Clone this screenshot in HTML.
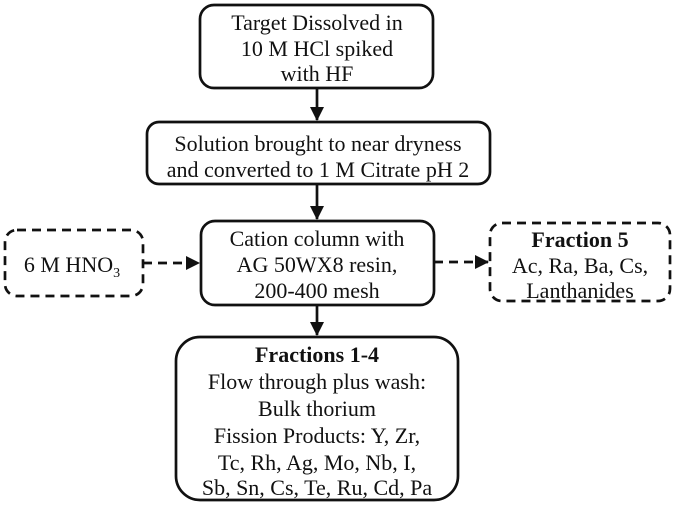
<!DOCTYPE html>
<html><head><meta charset="utf-8"><style>
html,body{margin:0;padding:0;background:#fff}
svg{display:block}
text{font-family:"Liberation Serif",serif;font-size:22px;fill:#111;text-anchor:middle}
.b{font-weight:bold}
</style></head><body>
<svg width="675" height="506" viewBox="0 0 675 506">
<defs>
<marker id="d" markerWidth="14" markerHeight="14" refX="13" refY="7" orient="auto" markerUnits="userSpaceOnUse"><path d="M0,0 L14,7 L0,14 z" fill="#111"/></marker></defs>
<g fill="none" stroke="#111" stroke-width="2.7">
<rect x="200" y="5" width="233" height="83" rx="14"/>
<rect x="147" y="122" width="343" height="62" rx="12"/>
<rect x="201" y="221" width="233" height="84" rx="14"/>
<rect x="176" y="337" width="282" height="163" rx="24"/>
<rect x="5" y="230" width="138" height="66" rx="12" stroke-dasharray="9,6"/>
<rect x="490" y="223" width="180" height="78" rx="12" stroke-dasharray="9,6"/>
<line x1="317" y1="88" x2="317" y2="120" marker-end="url(#d)"/>
<line x1="317" y1="184" x2="317" y2="219" marker-end="url(#d)"/>
<line x1="317" y1="305" x2="317" y2="335" marker-end="url(#d)"/>
<line x1="143" y1="263" x2="199" y2="263" stroke-dasharray="9,6" marker-end="url(#d)"/>
<line x1="434" y1="262" x2="488" y2="262" stroke-dasharray="9,6" marker-end="url(#d)"/>
</g>
<text x="317" y="30">Target Dissolved in</text>
<text x="317" y="56">10 M HCl spiked</text>
<text x="317" y="81">with HF</text>
<text x="318" y="151">Solution brought to near dryness</text>
<text x="318" y="177">and converted to 1 M Citrate pH 2</text>
<text x="317" y="246">Cation column with</text>
<text x="317" y="272">AG 50WX8 resin,</text>
<text x="317" y="298">200-400 mesh</text>
<text x="72" y="272">6 M HNO<tspan font-size="14" dy="5">3</tspan></text>
<text x="580" y="247" class="b">Fraction 5</text>
<text x="580" y="273">Ac, Ra, Ba, Cs,</text>
<text x="580" y="298">Lanthanides</text>
<text x="317" y="362" class="b">Fractions 1-4</text>
<text x="317" y="389">Flow through plus wash:</text>
<text x="317" y="416">Bulk thorium</text>
<text x="317" y="443">Fission Products: Y, Zr,</text>
<text x="317" y="470">Tc, Rh, Ag, Mo, Nb, I,</text>
<text x="317" y="495">Sb, Sn, Cs, Te, Ru, Cd, Pa</text>
</svg>
</body></html>
